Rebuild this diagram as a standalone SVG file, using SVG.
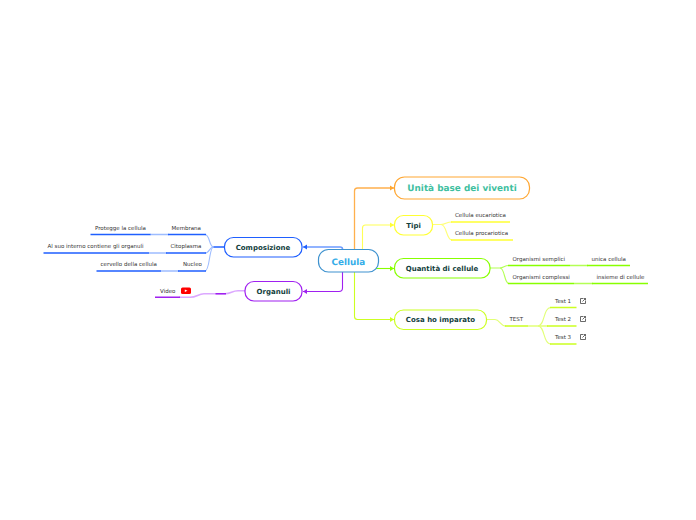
<svg xmlns="http://www.w3.org/2000/svg" width="696" height="520" viewBox="0 0 696 520">
<style>
text{font-family:"DejaVu Sans",Verdana,sans-serif;text-rendering:geometricPrecision}
.t{font-size:5.5px;fill:#333}
.b{font-size:7px;font-weight:bold;fill:#12403c;text-anchor:middle}
.n{fill:#fff;stroke-width:1.2}
.c{fill:none;stroke-width:1.1}
.l{fill:none;stroke-width:1.1}
.u{fill:none;stroke-width:1.5}
</style>
<defs>
<marker id="ao" markerWidth="6" markerHeight="6" refX="4" refY="3" orient="auto" markerUnits="userSpaceOnUse"><path d="M0 .5L4 3L0 5.500z" fill="#ffa733"/></marker>
<marker id="ay" markerWidth="6" markerHeight="6" refX="4" refY="3" orient="auto" markerUnits="userSpaceOnUse"><path d="M0 .5L4 3L0 5.500z" fill="#ffff33"/></marker>
<marker id="ag" markerWidth="6" markerHeight="6" refX="4" refY="3" orient="auto" markerUnits="userSpaceOnUse"><path d="M0 .5L4 3L0 5.500z" fill="#88ff00"/></marker>
<marker id="al" markerWidth="6" markerHeight="6" refX="4" refY="3" orient="auto" markerUnits="userSpaceOnUse"><path d="M0 .5L4 3L0 5.500z" fill="#ccff22"/></marker>
<marker id="ab" markerWidth="6" markerHeight="6" refX="4" refY="3" orient="auto" markerUnits="userSpaceOnUse"><path d="M0 .5L4 3L0 5.500z" fill="#1f5fff"/></marker>
<marker id="ap" markerWidth="6" markerHeight="6" refX="4" refY="3" orient="auto" markerUnits="userSpaceOnUse"><path d="M0 .5L4 3L0 5.500z" fill="#a020f0"/></marker>
</defs>
<g id="connectors">
<path class="c" stroke="#ffb04d" style="stroke-width:1.300" d="M354.500 250V191Q354.500 188 357.500 188H394" marker-end="url(#ao)"/>
<path class="c" stroke="#ffff55" d="M362.500 250V228Q362.500 225 365.500 225H394" marker-end="url(#ay)"/>
<path class="c" stroke="#88ff00" d="M376 268.500H394" marker-end="url(#ag)"/>
<path class="c" stroke="#ccff22" d="M354.500 272V316.500Q354.500 319.500 357.500 319.500H394" marker-end="url(#al)"/>
<path class="c" stroke="#6d9bff" style="stroke-width:1.600" d="M342.500 249.500V249Q342.500 247 340 247H303" marker-end="url(#ab)"/>
<path class="c" stroke="#a020f0" d="M342.500 272V288Q342.500 291.500 339 291.500H303" marker-end="url(#ap)"/>

<g stroke="#9dbcff">
<path class="l" d="M213.500 247C209 247 210 234.500 205 234.500"/>
<path class="l" d="M213.500 247C209 247 210 253 205 253"/>
<path class="l" d="M213.500 247C209 247 210 271 205 271"/>
<path class="u" d="M150 234.500H169M149 253H167M161 271H179"/>
</g>
<path class="u" stroke="#1f5fff" d="M224.500 247H213.500"/>
<g stroke="#1f5fff">
<path class="u" d="M90.500 234.500H150.500M168 234.500H206"/>
<path class="u" d="M43.500 253H149M166 253H206"/>
<path class="u" d="M96.500 271H161M178 271H206"/>
</g>

<path class="u" stroke="#dca8ff" d="M245 290.700H238C232 290.700 231 293.800 225 293.800H204C198 293.800 197 297.300 190 297.300H179"/>
<path class="u" stroke="#a020f0" d="M155 297.300H180M215.500 293.800H226"/>

<g stroke="#ffff77">
<path class="l" d="M432 224.500H441C446 224.500 446 222 452 222"/>
<path class="l" d="M441 224.500C447 224.500 446 240 452 240"/>
</g>
<path class="u" stroke="#ffff33" d="M451 222H510M451 240H513"/>

<g stroke="#b4ff55">
<path class="l" d="M490 268H500C504 268 504 265.500 509 265.500"/>
<path class="l" d="M500 268C505 268 504 283.500 509 283.500"/>
<path class="u" d="M570 265.500H588M574 283.500H593"/>
</g>
<g stroke="#88ff00"><path class="u" d="M508 265.500H570M587 265.500H630M508 283.500H574M592 283.500H648"/></g>

<g stroke="#e2ff77">
<path class="l" d="M487 319.500H495C500 319.500 500 326 506 326"/>
<path class="l" d="M538 326C545 326 543 307.500 551 307.500"/>
<path class="l" d="M538 326C545 326 543 344 551 344"/>
<path class="u" d="M528 326H548"/>
</g>
<g stroke="#ccff22"><path class="u" d="M505 326H528M550 307.500H576.500M547 326H576.500M550 344H576.500"/></g>
</g>

<g id="root"><rect class="n" x="318.500" y="249.500" width="60" height="22.500" rx="10" stroke="#3e92cf"/><text x="348.300" y="264.500" text-anchor="middle" font-size="8.800" font-weight="bold" fill="#35ade8">Cellula</text></g>

<g id="unita"><rect class="n" x="394.500" y="177" width="135" height="22" rx="10" stroke="#ffa733"/><text x="462" y="191" text-anchor="middle" font-size="8.900" font-weight="bold" fill="#3fbf9f">Unità base dei viventi</text></g>
<g id="tipi"><rect class="n" x="394.500" y="215.500" width="38" height="19.500" rx="9" stroke="#ffff33"/><text class="b" x="413.500" y="228">Tipi</text></g>
<g id="quantita"><rect class="n" x="394.500" y="258.500" width="95.500" height="19.500" rx="9" stroke="#88ff00"/><text class="b" x="442" y="271">Quantità di cellule</text></g>
<g id="cosa"><rect class="n" x="394.500" y="310" width="92" height="19.500" rx="9" stroke="#ccff22"/><text class="b" x="440.500" y="322">Cosa ho imparato</text></g>
<g id="composizione"><rect class="n" x="224.500" y="237.500" width="77.500" height="19.500" rx="9" stroke="#1f5fff"/><text class="b" x="263" y="250">Composizione</text></g>
<g id="organuli"><rect class="n" x="245" y="281.500" width="57" height="19.500" rx="9" stroke="#a020f0"/><text class="b" x="273.500" y="294">Organuli</text></g>

<g id="protegge"><text class="t" x="95" y="230">Protegge la cellula</text></g>
<g id="membrana"><text class="t" x="171.500" y="230">Membrana</text></g>
<g id="suo"><text class="t" x="47.500" y="248">Al suo interno contiene gli organuli</text></g>
<g id="citoplasma"><text class="t" x="170.500" y="248">Citoplasma</text></g>
<g id="cervello"><text class="t" x="100.500" y="266">cervello della cellula</text></g>
<g id="nucleo"><text class="t" x="183" y="266">Nucleo</text></g>
<g id="video"><text class="t" x="160" y="293">Video</text><rect x="181" y="287.500" width="10" height="6.500" rx="1.500" fill="#f00"/><path d="M184.800 289.500L187.500 290.800L184.800 292z" fill="#fff"/></g>
<g id="eucariotica"><text class="t" x="455" y="217">Cellula eucariotica</text></g>
<g id="procariotica"><text class="t" x="455" y="235">Cellula procariotica</text></g>
<g id="semplici"><text class="t" x="512.500" y="261">Organismi semplici</text></g>
<g id="unica"><text class="t" x="591.500" y="261">unica cellula</text></g>
<g id="complessi"><text class="t" x="512.500" y="279">Organismi complessi</text></g>
<g id="insieme"><text class="t" x="596.500" y="279">insieme di cellule</text></g>
<g id="test"><text class="t" x="509.500" y="321">TEST</text></g>
<g id="test1"><text class="t" x="555" y="303">Test 1</text><path d="M583 298.500H580.500V303.500H585.500V301M583.500 298.500H585.500V300.500M585.500 298.500L582.500 301.500" fill="none" stroke="#444" stroke-width=".8"/></g>
<g id="test2"><text class="t" x="555" y="321">Test 2</text><path d="M583 316.500H580.500V321.500H585.500V319M583.500 316.500H585.500V318.500M585.500 316.500L582.500 319.500" fill="none" stroke="#444" stroke-width=".8"/></g>
<g id="test3"><text class="t" x="555" y="339">Test 3</text><path d="M583 334.500H580.500V339.500H585.500V337M583.500 334.500H585.500V336.500M585.500 334.500L582.500 337.500" fill="none" stroke="#444" stroke-width=".8"/></g>
</svg>
